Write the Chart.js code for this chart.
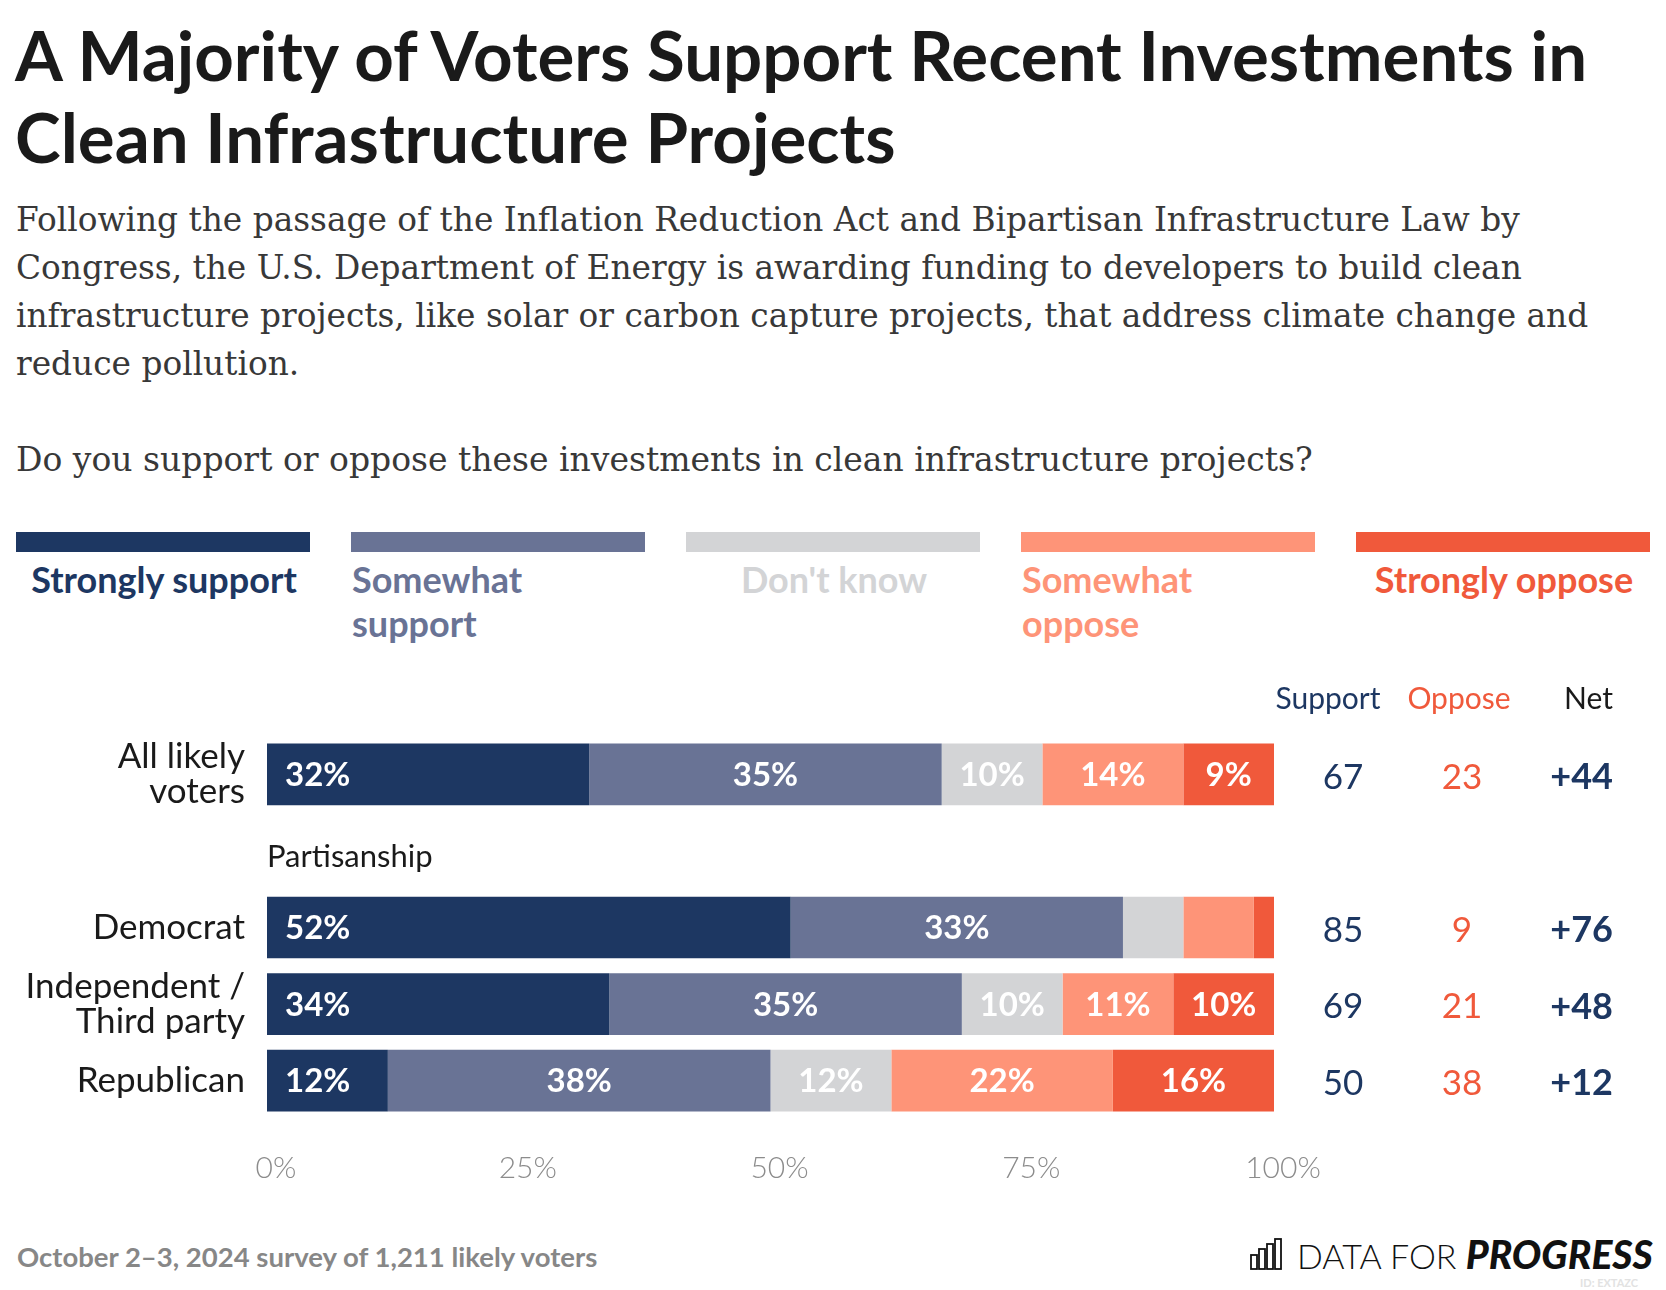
<!DOCTYPE html>
<html>
<head>
<meta charset="utf-8">
<script src="https://cdn.jsdelivr.net/npm/chart.js@4.4.1/dist/chart.umd.min.js"></script>
<style>
  body { margin: 0; width: 1666px; height: 1290px; background: #fff; position: relative; overflow: hidden; font-family: Lato, sans-serif; color: #1a1a1a; }
  .abs { position: absolute; }
  #title { left: 15px; top: 14px; font-weight: 700; font-size: 69px; line-height: 82px; white-space: nowrap; }
  #sub { left: 16px; top: 196px; font-family: 'DejaVu Serif', serif; font-size: 32.8px; line-height: 48px; color: #383838; white-space: nowrap; }
  #question { left: 16px; top: 436px; font-family: 'DejaVu Serif', serif; font-size: 33px; line-height: 48px; color: #383838; white-space: nowrap; }
  .legbar { top: 532px; height: 20px; width: 294px; }
  .leglab { top: 557px; width: 294px; font-weight: 700; font-size: 36px; line-height: 44px; }
  #chartbox { left: 0; top: 640px; width: 1666px; height: 570px; }
  #foot { left: 17px; top: 1240px; font-size: 27.5px; font-weight: 700; color: #878787; white-space: nowrap; }
  #logo { left: 1297px; top: 1237px; font-size: 34px; line-height: 35px; font-weight: 300; color: #111; white-space: nowrap; }
  #logo b { font-weight: 900; font-style: italic; font-size: 39px; }
  #logoicon { left: 1250px; top: 1238px; }
  #id { left: 1580px; top: 1276px; font-size: 11px; font-weight: 700; color: #e2e2e2; }
</style>
</head>
<body>
<div id="title" class="abs">A Majority of Voters Support Recent Investments in<br>Clean Infrastructure Projects</div>
<div id="sub" class="abs">Following the passage of the Inflation Reduction Act and Bipartisan Infrastructure Law by<br>Congress, the U.S. Department of Energy is awarding funding to developers to build clean<br>infrastructure projects, like solar or carbon capture projects, that address climate change and<br>reduce pollution.</div>
<div id="question" class="abs">Do you support or oppose these investments in clean infrastructure projects?</div>
<div id="legend"></div>
<div id="chartbox" class="abs"><canvas id="chart" width="1666" height="570"></canvas></div>
<div id="foot" class="abs">October 2–3, 2024 survey of 1,211 likely voters</div>
<svg id="logoicon" class="abs" width="34" height="32" viewBox="0 0 34 32">
  <g fill="none" stroke="#111" stroke-width="1.8">
    <rect x="1" y="17" width="6" height="14"/>
    <rect x="9" y="11" width="6" height="20"/>
    <rect x="17" y="6" width="6" height="25"/>
    <rect x="25" y="1" width="6" height="30"/>
  </g>
</svg>
<div id="logo" class="abs">DATA FOR <b>PROGRESS</b></div>
<div id="id" class="abs">ID: EXTAZC</div>

<script>
const categories = [['All likely', 'voters'], 'Democrat', ['Independent /', 'Third party'], 'Republican'];
const groupLabel = 'Partisanship';
const seriesNames = ['Strongly support', 'Somewhat support', "Don't know", 'Somewhat oppose', 'Strongly oppose'];
const stronglySupport = [32, 52, 34, 12];
const somewhatSupport = [35, 33, 35, 38];
const dontKnow = [10, 6, 10, 12];
const somewhatOppose = [14, 7, 11, 22];
const stronglyOppose = [9, 2, 10, 16];
const supportTotal = [67, 85, 69, 50];
const opposeTotal = [23, 9, 21, 38];
const netScore = [44, 76, 48, 12];
const xTicks = [0, 25, 50, 75, 100];

const colors = ['#1d3762', '#697395', '#d3d4d6', '#fe9478', '#f0593b'];
const legendWrap = [false, true, false, true, false];

// empty row between "All likely voters" and the partisanship group
const withGap = arr => [arr[0], null, ...arr.slice(1)];

// legend
const legend = document.getElementById('legend');
seriesNames.forEach((name, i) => {
  const left = 16 + i * 335;
  const bar = document.createElement('div');
  bar.className = 'abs legbar';
  bar.style.left = left + 'px';
  bar.style.background = colors[i];
  legend.appendChild(bar);
  const lab = document.createElement('div');
  lab.className = 'abs leglab';
  lab.style.left = (left + 1) + 'px';
  lab.style.color = colors[i];
  lab.style.textAlign = legendWrap[i] ? 'left' : 'center';
  lab.innerHTML = legendWrap[i] ? name.replace(' ', '<br>') : name;
  legend.appendChild(lab);
});

const sideLabels = {
  id: 'sideLabels',
  afterDatasetsDraw(chart) {
    const { ctx, chartArea, scales: { y } } = chart;
    ctx.save();
    ctx.textBaseline = 'middle';

    // percentages inside the bars
    ctx.font = '700 33px Lato';
    ctx.fillStyle = '#fff';
    chart.data.datasets.forEach((ds, di) => {
      chart.getDatasetMeta(di).data.forEach((bar, i) => {
        const v = ds.data[i];
        if (v == null || v < 8) return;
        if (di === 0) {
          ctx.textAlign = 'left';
          ctx.fillText(v + '%', bar.base + 18, bar.y + 1);
        } else {
          ctx.textAlign = 'center';
          ctx.fillText(v + '%', (bar.x + bar.base) / 2, bar.y + 1);
        }
      });
    });

    ctx.font = '400 31px Lato';
    ctx.fillStyle = '#1a1a1a';
    ctx.textAlign = 'left';
    ctx.fillText(groupLabel, chartArea.left, y.getPixelForValue(1) + 6);

    // column headers
    const hy = chartArea.top - 37;
    ctx.font = '400 30px Lato';
    ctx.textAlign = 'center';
    ctx.fillStyle = colors[0];
    ctx.fillText('Support', chartArea.right + 54, hy);
    ctx.fillStyle = colors[4];
    ctx.fillText('Oppose', chartArea.right + 185, hy);
    ctx.textAlign = 'right';
    ctx.fillStyle = '#1a1a1a';
    ctx.fillText('Net', chartArea.right + 339, hy);

    const rows = withGap(categories.map((_, i) => i));
    rows.forEach((r, idx) => {
      if (r == null) return;
      const py = y.getPixelForValue(idx) + 3;
      ctx.font = '400 35px Lato';
      ctx.textAlign = 'center';
      ctx.fillStyle = colors[0];
      ctx.fillText(supportTotal[r], chartArea.right + 69, py);
      ctx.fillStyle = colors[4];
      ctx.fillText(opposeTotal[r], chartArea.right + 188, py);
      ctx.font = '700 36px Lato';
      ctx.textAlign = 'right';
      ctx.fillStyle = colors[0];
      ctx.fillText((netScore[r] > 0 ? '+' : '') + netScore[r], chartArea.right + 339, py);
    });
    ctx.restore();
  }
};

const seriesData = [stronglySupport, somewhatSupport, dontKnow, somewhatOppose, stronglyOppose];

new Chart(document.getElementById('chart'), {
  type: 'bar',
  data: {
    labels: withGap(categories).map(l => l ?? ''),
    datasets: seriesData.map((d, i) => ({
      label: seriesNames[i],
      data: withGap(d),
      backgroundColor: colors[i],
      borderWidth: 0,
      barPercentage: 0.805,
      categoryPercentage: 1
    }))
  },
  options: {
    indexAxis: 'y',
    responsive: false,
    animation: false,
    layout: { padding: { top: 96, right: 392, bottom: 21, left: 0 } },
    plugins: { legend: { display: false }, tooltip: { enabled: false } },
    scales: {
      x: {
        stacked: true,
        min: 0,
        max: 100,
        afterBuildTicks: s => { s.ticks = xTicks.map(v => ({ value: v })); },
        afterFit: s => { s.height = 70; },
        grid: { display: false, drawTicks: false },
        border: { display: false },
        ticks: {
          callback: v => v + '%',
          color: '#8c8c8c',
          font: { family: 'Lato', size: 30, weight: 300 },
          padding: 31,
          labelOffset: 9,
          maxRotation: 0,
          autoSkip: false
        }
      },
      y: {
        stacked: true,
        afterFit: s => { s.width = 267; },
        grid: { display: false, drawTicks: false },
        border: { display: false },
        ticks: {
          color: '#1a1a1a',
          font: { family: 'Lato', size: 35, lineHeight: 1.0 },
          padding: 22,
          autoSkip: false
        }
      }
    }
  },
  plugins: [sideLabels]
});
</script>
</body>
</html>
